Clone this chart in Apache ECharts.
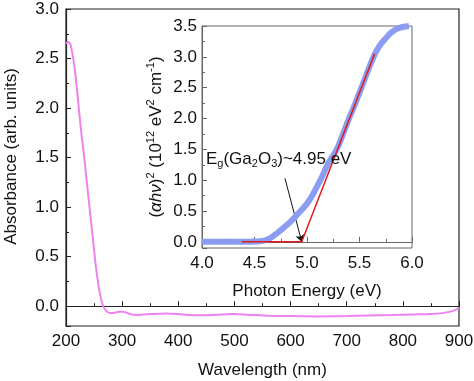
<!DOCTYPE html>
<html>
<head>
<meta charset="utf-8">
<script src="https://cdn.jsdelivr.net/npm/echarts@6/dist/echarts.min.js"></script>
<style>
html,body{margin:0;padding:0;background:#fff;}
#chart{width:474px;height:381px;}
</style>
</head>
<body>
<div id="chart"></div>
<script>
// Main absorbance spectrum
var wavelength = [200,204,208,212,216,220,224,228,232,236,240,244,248,252,256,260,264,268,272,276,280,285,290,295,300,305,310,320,330,340,350,365,380,400,420,440,460,480,500,530,560,600,650,700,740,780,820,850,870,885,895,900];
var absorbance = [2.65,2.67,2.64,2.53,2.38,2.16,1.93,1.71,1.53,1.31,1.10,0.89,0.68,0.46,0.28,0.14,0.04,-0.02,-0.05,-0.065,-0.07,-0.068,-0.062,-0.057,-0.056,-0.06,-0.07,-0.087,-0.088,-0.083,-0.08,-0.077,-0.074,-0.08,-0.09,-0.092,-0.088,-0.083,-0.08,-0.088,-0.096,-0.1,-0.104,-0.1,-0.094,-0.09,-0.083,-0.078,-0.07,-0.055,-0.035,-0.02];

// Inset Tauc plot
var photonEnergy = [4.0,4.2,4.4,4.5,4.55,4.6,4.65,4.7,4.75,4.8,4.85,4.9,4.95,5.0,5.05,5.1,5.15,5.2,5.25,5.3,5.35,5.4,5.45,5.5,5.55,5.6,5.65,5.7,5.75,5.8,5.85,5.9,5.97];
var taucValue = [0.0,0.0,0.0,0.005,0.01,0.025,0.06,0.12,0.19,0.26,0.34,0.43,0.52,0.62,0.75,0.91,1.08,1.27,1.40,1.56,1.78,2.0,2.2,2.42,2.64,2.86,3.06,3.2,3.3,3.39,3.45,3.48,3.5];
var fitEnergy = [4.38,4.95,5.644];
var fitValue = [0.0,0.0,3.05];
var arrowFrom = [4.79,1.03];
var arrowTo = [4.95,0.0];

var mainXTicks = {min:200,max:900,interval:100};
var insetXTicks = {min:4.0,max:6.0,interval:0.5};

function zip(a,b){return a.map(function(v,i){return [v,b[i]];});}

var FONT = "'Liberation Sans', Arial, sans-serif";
var chart = echarts.init(document.getElementById('chart'));

function halfLabel(v){
  var r = Math.round(v*2)/2;
  if (Math.abs(r - v) > 1e-6) return '';
  return v.toFixed(1);
}

var option = {
  animation:false,
  backgroundColor:'#fff',
  textStyle:{fontFamily:FONT},
  grid:[
    {left:66,top:9,right:15,bottom:55,containLabel:false,outerBoundsMode:'none',show:true,borderColor:'#222',borderWidth:1.2,backgroundColor:'transparent',z:1},
    {left:202,top:26,width:210,height:222,containLabel:false,outerBoundsMode:'none',show:true,borderColor:'#666',borderWidth:1,backgroundColor:'#fff',z:3}
  ],
  xAxis:[
    {gridIndex:0,type:'value',min:mainXTicks.min,max:mainXTicks.max,interval:mainXTicks.interval,
     name:'Wavelength (nm)',nameLocation:'middle',nameGap:36,
     nameTextStyle:{fontSize:17,color:'#111',fontFamily:FONT},
     axisLine:{show:true,lineStyle:{color:'#222',width:1.2}},
     axisTick:{show:true,inside:true,length:5,lineStyle:{color:'#222'}},
     minorTick:{show:true,splitNumber:2,length:3,lineStyle:{color:'#222'}},
     splitLine:{show:false},
     axisLabel:{fontSize:17,color:'#111',margin:7,fontFamily:FONT}},
    {gridIndex:1,type:'value',min:insetXTicks.min,max:insetXTicks.max,interval:insetXTicks.interval,
     name:'Photon Energy (eV)',nameLocation:'middle',nameGap:35,
     nameTextStyle:{fontSize:17,color:'#111',fontFamily:FONT},
     axisLine:{show:true,lineStyle:{color:'#666',width:1}},
     axisTick:{show:true,inside:true,length:5,lineStyle:{color:'#666'}},
     minorTick:{show:true,splitNumber:2,length:3,lineStyle:{color:'#666'}},
     splitLine:{show:false},
     axisLabel:{fontSize:17,color:'#111',margin:7,fontFamily:FONT,formatter:function(v){return v.toFixed(1);}},
     z:4}
  ],
  yAxis:[
    {gridIndex:0,type:'value',min:-0.2,max:3.0,splitNumber:6,
     name:'Absorbance (arb. units)',nameLocation:'middle',nameGap:46,
     nameTextStyle:{fontSize:17,color:'#111',fontFamily:FONT,padding:[0,0,0,22]},
     axisLine:{show:true,lineStyle:{color:'#222',width:1.2}},
     axisTick:{show:true,inside:true,length:5,lineStyle:{color:'#222'}},
     minorTick:{show:true,splitNumber:2,length:3,lineStyle:{color:'#222'}},
     splitLine:{show:false},
     axisLabel:{fontSize:17,color:'#111',margin:7,fontFamily:FONT,formatter:halfLabel}},
    {gridIndex:1,type:'value',min:-0.1,max:3.5,splitNumber:7,
     name:'{n|(}{i|αhν}{n|)}{s|2}{n| (10}{s|12}{n| eV}{s|2}{n| cm}{s|-1}{n|)}',
     nameLocation:'middle',nameGap:35,
     nameTextStyle:{fontFamily:FONT,color:'#111',
       rich:{
         n:{fontSize:17,lineHeight:22,fontFamily:FONT,color:'#111'},
         i:{fontSize:17,lineHeight:22,fontStyle:'italic',fontFamily:FONT,color:'#111'},
         s:{fontSize:11,lineHeight:12,verticalAlign:'top',fontFamily:FONT,color:'#111'}
       }},
     axisLine:{show:true,lineStyle:{color:'#666',width:1}},
     axisTick:{show:true,inside:true,length:5,lineStyle:{color:'#666'}},
     minorTick:{show:true,splitNumber:2,length:3,lineStyle:{color:'#666'}},
     splitLine:{show:false},
     axisLabel:{fontSize:17,color:'#111',margin:5,fontFamily:FONT,formatter:halfLabel},
     z:4}
  ],
  series:[
    {type:'line',xAxisIndex:0,yAxisIndex:0,data:zip(wavelength,absorbance),
     showSymbol:false,smooth:0.2,lineStyle:{color:'#ee82ee',width:2},z:2},
    {type:'line',xAxisIndex:1,yAxisIndex:1,data:zip(photonEnergy,taucValue),
     showSymbol:false,smooth:0.2,lineStyle:{color:'#8c9cf0',width:6},z:5},
    {type:'line',xAxisIndex:1,yAxisIndex:1,data:zip(fitEnergy,fitValue),
     showSymbol:false,lineStyle:{color:'#e01b1b',width:1.5},z:6,
     markLine:{silent:true,symbol:['none','arrow'],symbolSize:7,
       lineStyle:{color:'#111',width:1,type:'solid'},label:{show:false},
       data:[[{coord:arrowFrom},{coord:arrowTo}]]}}
  ],
  graphic:[
    {type:'text',left:206,top:151,z:10,
     style:{text:'{n|E}{b|g}{n|(Ga}{b|2}{n|O}{b|3}{n|)~4.95 eV}',
       rich:{
         n:{fontSize:17,lineHeight:20,fontFamily:FONT,fill:'#111'},
         b:{fontSize:11,lineHeight:11,verticalAlign:'bottom',fontFamily:FONT,fill:'#111'}
       }}}
  ]
};
chart.setOption(option);
</script>
</body>
</html>
